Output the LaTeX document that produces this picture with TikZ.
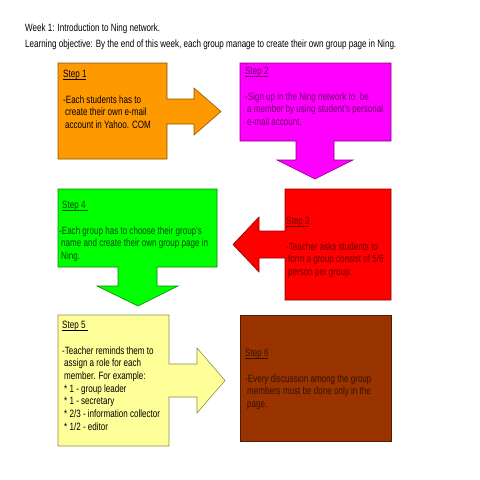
\documentclass[tikz,border=0pt]{standalone}
\usepackage{fontspec}
\setmainfont[FakeStretch=0.76]{Liberation Sans}
\usetikzlibrary{positioning}
\definecolor{orangebox}{HTML}{FF9900}
\definecolor{pinkbox}{HTML}{FF00FF}
\definecolor{greenbox}{HTML}{00FF00}
\definecolor{redbox}{HTML}{FF0000}
\definecolor{yellowbox}{HTML}{FFFF99}
\definecolor{brownbox}{HTML}{993300}
\newcommand{\steplabel}[1]{\underline{\raisebox{0pt}[\height][0pt]{#1}}}
\tikzset{
  titletext/.style={anchor=base west, inner sep=0pt, font=\fontsize{10.6}{12.7}\selectfont},
  steptext/.style={anchor=north west, inner sep=0pt, align=left, font=\fontsize{10.6}{12.7}\selectfont},
  stepshape/.style={fill=#1, draw=#1!55!black, line width=0.6pt}
}

\begin{document}
\begin{tikzpicture}[x=1pt, y=-1pt]
    \useasboundingbox (0,0) rectangle (480,480);

    \node(week)[titletext] at (25,31.5){Week 1: Introduction to Ning network.};
    \node(goal)[titletext, below=16pt of week.base west, anchor=base west]{Learning objective: By the end of this week, each group manage to create their own group page in Ning.};

    % step 1 -> step 2
    \draw[stepshape=orangebox] (58,63) -- (167,63) -- (167,99) -- (194,99) -- (194,88) -- (221,111.5)
        -- (194,135) -- (194,124) -- (167,124) -- (167,159) -- (58,159) -- cycle;
    % step 2 -> step 3
    \draw[stepshape=pinkbox] (240,63) -- (391,63) -- (391,141) -- (334,141) -- (334,160) -- (353,160)
        -- (315,179) -- (277,160) -- (296,160) -- (296,141) -- (240,141) -- cycle;
    % step 3 -> step 4
    \draw[stepshape=redbox] (285,189) -- (391,189) -- (391,300) -- (285,300) -- (285,258) -- (259,258)
        -- (259,272) -- (233,244.5) -- (259,217) -- (259,231) -- (285,231) -- cycle;
    % step 4 -> step 5
    \draw[stepshape=greenbox] (58,189) -- (217,189) -- (217,267) -- (157,267) -- (157,286) -- (178,286)
        -- (138,306) -- (97,286) -- (118,286) -- (118,267) -- (58,267) -- cycle;
    % step 5 -> step 6
    \draw[stepshape=yellowbox] (58,315) -- (169,315) -- (169,364) -- (197,364) -- (197,348) -- (225,380.5)
        -- (197,413) -- (197,397) -- (169,397) -- (169,446) -- (58,446) -- cycle;
    % step 6
    \draw[stepshape=brownbox] (240,315) rectangle (391,441);

    \node(s1)[steptext] at (63,70){\steplabel{Step 1}\\[12.7pt]
        -Each students has to\\
        \hspace*{2pt}create their own e-mail\\
        \hspace*{2pt}account in Yahoo. COM};
    \node(s2)[steptext, text=pinkbox!42!black] at (245,67){\steplabel{Step 2}\\[12.7pt]
        -Sign up in the Ning network to\ \ be\\
        \hspace*{2pt}a member by using student's personal\\
        \hspace*{2pt}e-mail account.};
    \node(s3)[steptext, text=redbox!42!black] at (286,217){\steplabel{Step 3}\\[12.7pt]
        -Teacher asks students to\\
        \hspace*{2pt}form a group consist of 5/6\\
        \hspace*{2pt}person per group.};
    \node(s4)[steptext, text=greenbox!30!black] at (59,201){\hspace*{3pt}\steplabel{Step 4\ }\\[12.7pt]
        -Each group has to choose their group's\\
        \hspace*{2pt}name and create their own group page in\\
        \hspace*{2pt}Ning.};
    \node(s5)[steptext] at (62,321){\steplabel{Step 5\ }\\[12.7pt]
        -Teacher reminds them to\\
        \hspace*{2pt}assign a role for each\\
        \hspace*{2pt}member. For example:\\
        \hspace*{2pt}* 1 - group leader\\
        \hspace*{2pt}* 1 - secretary\\
        \hspace*{2pt}* 2/3 - information collector\\
        \hspace*{2pt}* 1/2 - editor};
    \node(s6)[steptext, text=brownbox!35!black] at (245,349){\steplabel{Step 6}\\[12.7pt]
        -Every discussion among the group\\
        \hspace*{2pt}members must be done only in the\\
        \hspace*{2pt}page.};

\end{tikzpicture}
\end{document}
